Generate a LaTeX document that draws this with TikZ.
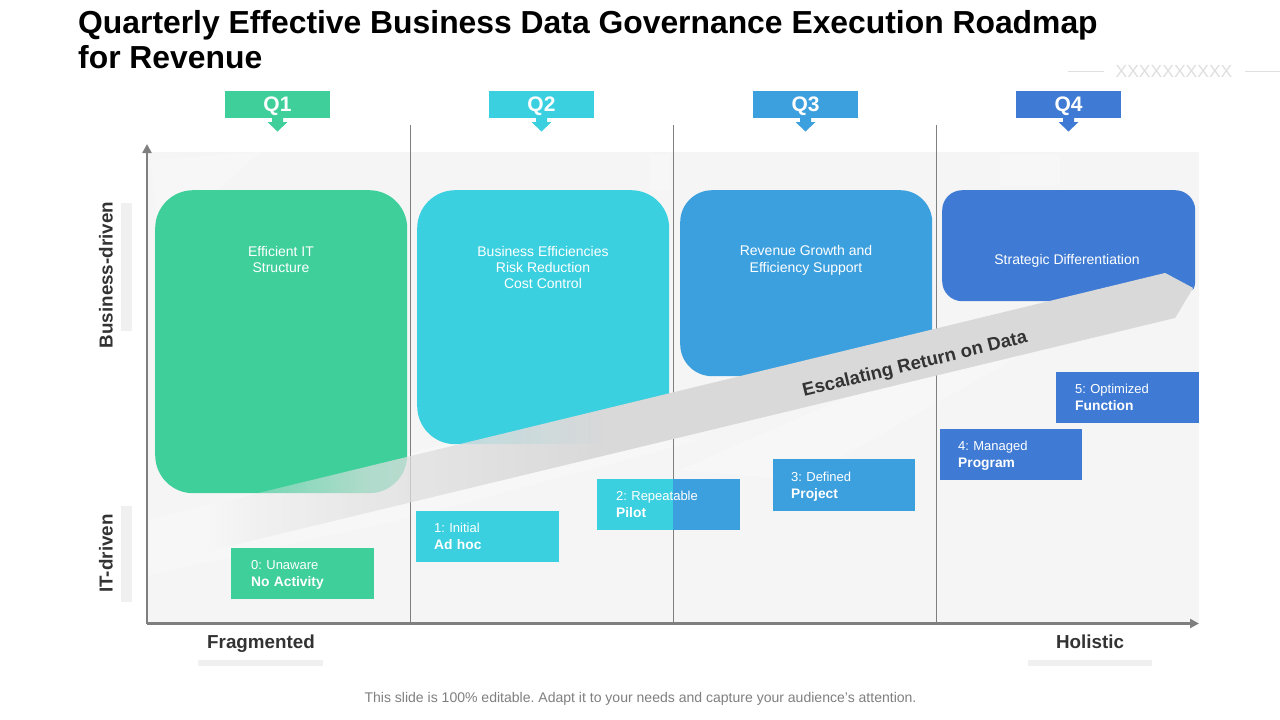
\documentclass[tikz,border=0pt]{standalone}
\usepackage{fontspec}
\setmainfont{Liberation Sans}
\usetikzlibrary{arrows.meta,fadings,positioning}
\frenchspacing
\definecolor{cgreen}{HTML}{3ECF9B}
\definecolor{ccyan}{HTML}{3BD0E0}
\definecolor{cblue}{HTML}{3DA0DE}
\definecolor{cdark}{HTML}{3F7BD4}
\definecolor{ctext}{HTML}{333333}
\definecolor{cgrey}{HTML}{7F7F7F}
\definecolor{cbar}{HTML}{F0F0F0}
\definecolor{cback}{HTML}{F5F5F5}
\definecolor{cbandL}{HTML}{E6E6E6}
\definecolor{cband}{HTML}{D9D9D9}
\newcommand{\fpx}[2]{\fontsize{#1pt}{#2pt}\selectfont}
\newcommand{\lvlb}[1]{\raisebox{0pt}[\height][0pt]{\fontsize{13.8pt}{17pt}\selectfont\textbf{#1}}}
\pgfdeclarehorizontalshading{bandshade}{100bp}{color(0bp)=(black); color(25bp)=(black); color(27.6bp)=(white!35!black); color(33bp)=(white!70!black); color(45bp)=(white); color(100bp)=(white)}
\pgfdeclarefading{bandfade}{\pgfuseshading{bandshade}}
\pgfdeclarehorizontalshading{bandtone}{100bp}{color(0bp)=(cbandL); color(25bp)=(cbandL); color(45bp)=(cband); color(100bp)=(cband)}
\tikzset{
  x=1pt,y=-1pt,
  qbox/.style={rectangle,minimum width=105pt,minimum height=27pt,inner sep=0pt,text=white,text depth=0pt,font=\fpx{21}{24}\bfseries},
  bigbox/.style={rectangle,inner sep=0pt,anchor=north west},
  bigtxt/.style={text=white,align=center,font=\fpx{14}{16.4},inner sep=0pt},
  lvl/.style={rectangle,anchor=north west,minimum height=51pt,text width=105pt,inner xsep=19pt,inner ysep=0pt,text=white,align=left,font=\fpx{13}{17}},
  axisline/.style={draw=cgrey,line width=2.4pt,-{Triangle[length=9pt,width=9pt]}},
  divider/.style={draw=cgrey,line width=.9pt},
  sidebar/.style={fill=cbar,draw=none},
  axlabel/.style={text=ctext,font=\fpx{18.8}{22}\bfseries,inner sep=0pt},
  texture/.style={fill=white,draw=none,opacity=.28},
}
\begin{document}
\begin{tikzpicture}
\useasboundingbox (0,0) rectangle (1280,720);
\fill[white] (0,0) rectangle (1280,720);
% plot backdrop
\fill[cback] (148,152) rectangle (1199,622);
\begin{scope}
\clip (148,152) rectangle (1199,622);
\fill[texture] (148,520) -- (520,425) -- (700,440) -- (400,520) -- (148,575) -- cycle;
\fill[texture] (680,470) -- (1000,330) -- (1030,350) -- (800,480) -- cycle;
\fill[texture] (150,160) -- (260,152) -- (160,240) -- cycle;
\fill[texture] (650,155) rectangle (670,190);
\fill[texture] (1000,155) rectangle (1060,185);
\end{scope}
% side bars
\fill[sidebar] (121,203) rectangle (132,331);
\fill[sidebar] (121,506) rectangle (132,602);
\fill[sidebar] (198,660) rectangle (323,666);
\fill[sidebar] (1028,660) rectangle (1152,666);
% top-right ornament
\coordinate (ornA) at (1068,71); \coordinate (ornB) at (1104,71);
\coordinate (ornC) at (1245,71); \coordinate (ornD) at (1280,71);
\draw[cbar!85!gray,line width=.8pt] (ornA) -- (ornB);
\draw[cbar!85!gray,line width=.8pt] (ornC) -- (ornD);
\node[text=cbar!85!gray,font=\fpx{17.5}{18},inner sep=0pt] (orn) at (1174,71) {XXXXXXXXXX};
% dividers
\coordinate (d1t) at (410.5,125); \coordinate (d1b) at (410.5,622);
\coordinate (d2t) at (673.5,125); \coordinate (d2b) at (673.5,622);
\coordinate (d3t) at (936.5,125); \coordinate (d3b) at (936.5,622);
\draw[divider] (d1t) -- (d1b);
\draw[divider] (d2t) -- (d2b);
\draw[divider] (d3t) -- (d3b);
% large boxes
\node[bigbox,fill=cgreen,minimum width=252pt,minimum height=303pt,rounded corners=38pt] (b1) at (155,190) {};
\node[bigbox,fill=ccyan,minimum width=252pt,minimum height=254pt,rounded corners=38pt] (b2) at (417,190) {};
\node[bigbox,fill=cblue,minimum width=252pt,minimum height=186pt,rounded corners=32pt] (b3) at (680,190) {};
\begin{scope}
\clip (930,180) -- (1205,180) -- (1205,292) -- (1195,288.3) -- (1170,300) -- (1170,310) -- (930,310) -- cycle;
\node[bigbox,fill=cdark,minimum width=253pt,minimum height=111pt,rounded corners=20pt] (b4) at (942,190) {};
\end{scope}
\node[bigtxt] (t1) at (281,259.5) {Efficient IT\\Structure};
\node[bigtxt] (t2) at (543,267.5) {Business Efficiencies\\Risk Reduction\\Cost Control};
\node[bigtxt] (t3) at (806,260.5) {Revenue Growth and\\Efficiency Support};
\node[bigtxt] (t4) at (1067,260.5) {Strategic Differentiation};
% band
\shade[shading=bandtone,path fading=bandfade,fit fading=true] (210,505) -- (1168,273) -- (1196,288) -- (1178,318) -- (210,551) -- cycle;
\node[rotate=13.6,text=ctext,font=\fpx{18.5}{22}\bfseries,inner sep=0pt] (bandlabel) at (915,365) {Escalating Return on Data};
% level boxes
\node[lvl,fill=cgreen,inner xsep=20pt,text width=103pt] (l0) at (231,548) {0: Unaware\\\lvlb{No Activity}};
\node[lvl,fill=ccyan,inner xsep=18pt,text width=107pt] (l1) at (416,511) {1: Initial\\\lvlb{Ad hoc}};
\fill[cblue] (673,479) rectangle (740,530);
\fill[ccyan] (597,479) rectangle (673,530);
\node[lvl,draw=none,fill=none] (l2) at (597,479) {2: Repeatable\\\lvlb{Pilot}};
\node[lvl,fill=cblue,minimum height=52pt,inner xsep=18pt,text width=106pt] (l3) at (773,459) {3: Defined\\\lvlb{Project}};
\node[lvl,fill=cdark,inner xsep=18pt,text width=106pt] (l4) at (940,429) {4: Managed\\\lvlb{Program}};
\node[lvl,fill=cdark] (l5) at (1056,372) {5: Optimized\\\lvlb{Function}};
% axes
\coordinate (org) at (147,623.5);
\coordinate (yend) at (147,144);
\coordinate (xend) at (1199,623.5);
\draw[axisline] (org) -- (yend);
\draw[axisline] (org) -- (xend);
% axis labels
\node[axlabel,rotate=90,anchor=base] (by) at (112.5,275) {Business-driven};
\node[axlabel,rotate=90,anchor=base] (it) at (112.5,553.5) {IT-driven};
\node[axlabel] (fr) at (261,644) {Fragmented};
\node[axlabel] (ho) at (1090,642) {Holistic};
% quarter tabs
\foreach \n/\cx/\c in {1/277.5/cgreen,2/541.5/ccyan,3/805.5/cblue,4/1068.5/cdark}{
  \node[qbox,fill=\c] (q\n) at (\cx,104.5) {Q\n};
  \fill[\c] (\cx-5.5,118) -- (\cx+5.5,118) -- (\cx+5.5,122) -- (\cx+10,122) -- (\cx,131.5) -- (\cx-10,122) -- (\cx-5.5,122) -- cycle;
}
% title and footer
\node[anchor=north west,inner sep=0pt,align=left,text=black,font=\fpx{31.85}{35}\bfseries] (title) at (78,10) {Quarterly Effective Business Data Governance Execution Roadmap\\for Revenue};
\node[text=cgrey,font=\fpx{14.03}{17},inner sep=0pt] (foot) at (640.5,699) {This slide is 100\% editable. Adapt it to your needs and capture your audience's attention.};
\end{tikzpicture}
\end{document}
